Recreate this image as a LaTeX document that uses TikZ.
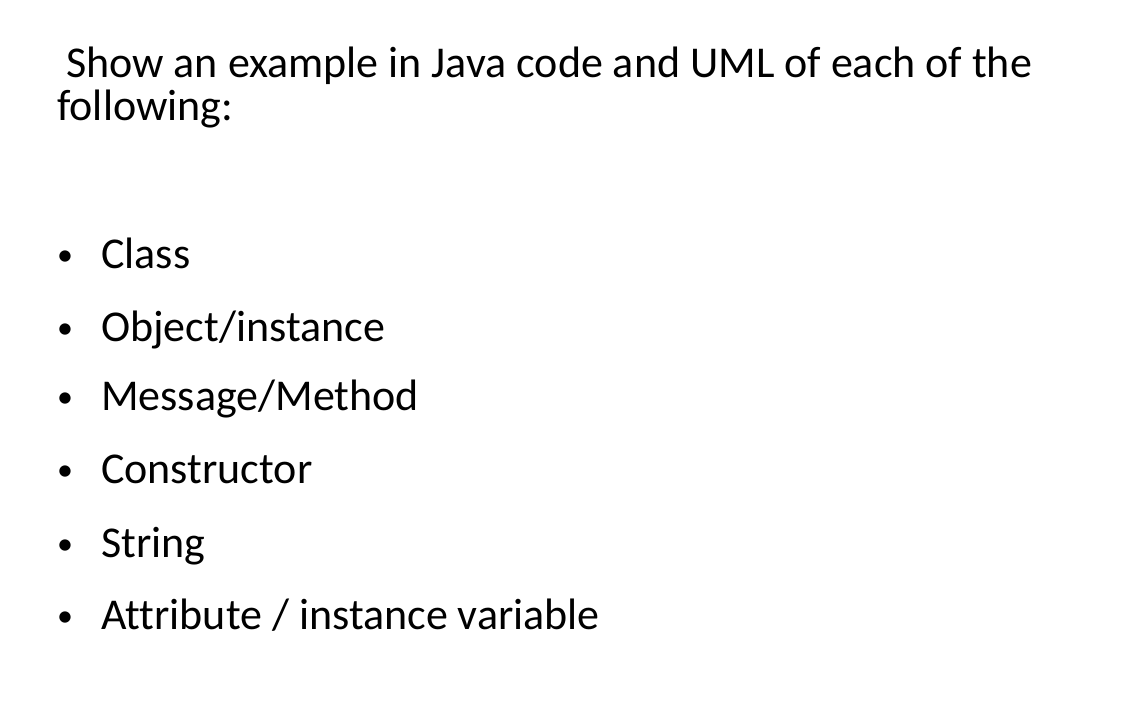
\documentclass[tikz,border=0pt]{standalone}
\usepackage{fontspec}
\setmainfont[Ligatures=NoCommon]{Carlito}
\begin{document}
\begin{tikzpicture}[x=1pt,y=1pt,
  title/.style={anchor=base west,inner sep=0,font=\fontsize{44}{50}\selectfont},
  item/.style={anchor=base west,inner sep=0,font=\fontsize{44}{50}\selectfont},
  dot/.style={anchor=base west,inner sep=0,font=\fontsize{32}{40}\selectfont}]
\useasboundingbox[fill=white] (0,0) rectangle (1146,-712);
\node[title] (t1) at (66,-77) {Show an example in Java code and UML of each of the};
\node[title] (t2) at (57,-120) {following:};
\foreach \y/\t [count=\i] in {268/{Class},341/{Object/instance},410/{Message/Method},483/{Constructor},557/{String},629/{Attribute / instance variable}}{
  \node[dot] (b\i) at (57,-\y+3) {•};
  \node[item] (i\i) at (101,-\y) {\t};
}
\end{tikzpicture}
\end{document}
